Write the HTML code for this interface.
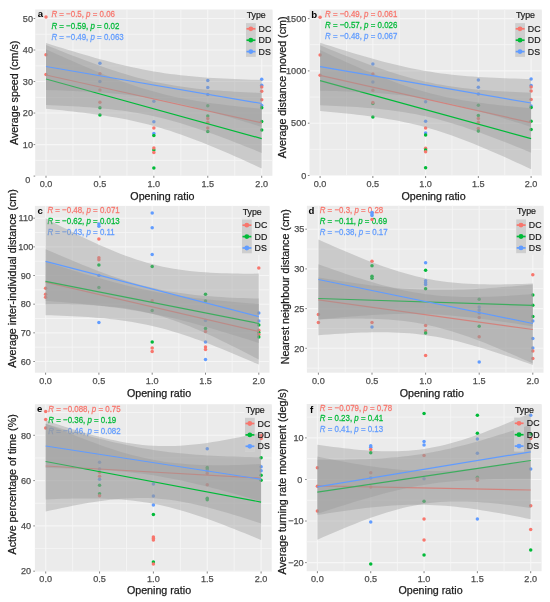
<!DOCTYPE html>
<html><head><meta charset="utf-8"><style>
html,body{margin:0;padding:0;background:#fff;}
svg{display:block;will-change:transform;}
text{font-family:"Liberation Sans", sans-serif;stroke-width:0.25px;paint-order:stroke;}
.tk{font-size:9.1px;fill:#4D4D4D;stroke:#4D4D4D;}
.ti{font-size:10.7px;fill:#1a1a1a;stroke:#1a1a1a;}
.tag{font-size:9.6px;font-weight:bold;fill:#000;}
.an{font-size:9.1px;}
.lt{font-size:8.8px;fill:#1a1a1a;stroke:#1a1a1a;stroke-width:0.2px;}
.ll{font-size:8.8px;fill:#1a1a1a;stroke:#1a1a1a;stroke-width:0.2px;}
</style></head><body>
<svg width="550" height="602" viewBox="0 0 550 602">
<rect width="550" height="602" fill="#fff"/>
<rect x="35.2" y="9.5" width="237.2" height="166.3" fill="#EBEBEB"/>
<line x1="35.2" x2="272.4" y1="160.34" y2="160.34" stroke="#F5F5F5" stroke-width="0.9"/>
<line x1="35.2" x2="272.4" y1="128.82" y2="128.82" stroke="#F5F5F5" stroke-width="0.9"/>
<line x1="35.2" x2="272.4" y1="97.3" y2="97.3" stroke="#F5F5F5" stroke-width="0.9"/>
<line x1="35.2" x2="272.4" y1="65.78" y2="65.78" stroke="#F5F5F5" stroke-width="0.9"/>
<line x1="35.2" x2="272.4" y1="34.26" y2="34.26" stroke="#F5F5F5" stroke-width="0.9"/>
<line y1="9.5" y2="175.8" x1="72.96" x2="72.96" stroke="#F5F5F5" stroke-width="0.9"/>
<line y1="9.5" y2="175.8" x1="126.89" x2="126.89" stroke="#F5F5F5" stroke-width="0.9"/>
<line y1="9.5" y2="175.8" x1="180.81" x2="180.81" stroke="#F5F5F5" stroke-width="0.9"/>
<line y1="9.5" y2="175.8" x1="234.74" x2="234.74" stroke="#F5F5F5" stroke-width="0.9"/>
<line x1="35.2" x2="272.4" y1="144.58" y2="144.58" stroke="#F6F6F6" stroke-width="1.1"/>
<line x1="35.2" x2="272.4" y1="113.06" y2="113.06" stroke="#F6F6F6" stroke-width="1.1"/>
<line x1="35.2" x2="272.4" y1="81.54" y2="81.54" stroke="#F6F6F6" stroke-width="1.1"/>
<line x1="35.2" x2="272.4" y1="50.02" y2="50.02" stroke="#F6F6F6" stroke-width="1.1"/>
<line x1="35.2" x2="272.4" y1="18.5" y2="18.5" stroke="#F6F6F6" stroke-width="1.1"/>
<line y1="9.5" y2="175.8" x1="46" x2="46" stroke="#F6F6F6" stroke-width="1.1"/>
<line y1="9.5" y2="175.8" x1="99.92" x2="99.92" stroke="#F6F6F6" stroke-width="1.1"/>
<line y1="9.5" y2="175.8" x1="153.85" x2="153.85" stroke="#F6F6F6" stroke-width="1.1"/>
<line y1="9.5" y2="175.8" x1="207.77" x2="207.77" stroke="#F6F6F6" stroke-width="1.1"/>
<line y1="9.5" y2="175.8" x1="261.7" x2="261.7" stroke="#F6F6F6" stroke-width="1.1"/>
<text transform="translate(51.4,17) scale(0.87,1)" class="an" fill="#F8766D" stroke="#F8766D"><tspan font-style="italic">R</tspan> = −0.5, <tspan font-style="italic">p</tspan> = 0.06</text>
<text transform="translate(51.4,28.5) scale(0.87,1)" class="an" fill="#00BA38" stroke="#00BA38"><tspan font-style="italic">R</tspan> = −0.59, <tspan font-style="italic">p</tspan> = 0.02</text>
<text transform="translate(51.4,40) scale(0.87,1)" class="an" fill="#619CFF" stroke="#619CFF"><tspan font-style="italic">R</tspan> = −0.49, <tspan font-style="italic">p</tspan> = 0.063</text>
<circle cx="46" cy="17" r="1.75" fill="#F8766D"/>
<circle cx="46" cy="54.7" r="1.75" fill="#F8766D"/>
<circle cx="46" cy="74.5" r="1.75" fill="#F8766D"/>
<circle cx="99.92" cy="63.3" r="1.75" fill="#619CFF"/>
<circle cx="99.92" cy="73.7" r="1.75" fill="#F8766D"/>
<circle cx="99.92" cy="81.5" r="1.75" fill="#619CFF"/>
<circle cx="99.92" cy="89.9" r="1.75" fill="#F8766D"/>
<circle cx="99.92" cy="102.2" r="1.75" fill="#F8766D"/>
<circle cx="99.92" cy="107.8" r="1.75" fill="#00BA38"/>
<circle cx="99.92" cy="114.9" r="1.75" fill="#00BA38"/>
<circle cx="153.85" cy="101.3" r="1.75" fill="#619CFF"/>
<circle cx="153.85" cy="121.8" r="1.75" fill="#619CFF"/>
<circle cx="153.85" cy="128.1" r="1.75" fill="#F8766D"/>
<circle cx="153.85" cy="133.5" r="1.75" fill="#619CFF"/>
<circle cx="153.85" cy="135.5" r="1.75" fill="#00BA38"/>
<circle cx="153.85" cy="150" r="1.75" fill="#00BA38"/>
<circle cx="153.85" cy="147.9" r="1.75" fill="#F8766D"/>
<circle cx="153.85" cy="152.4" r="1.75" fill="#F8766D"/>
<circle cx="153.85" cy="168" r="1.75" fill="#00BA38"/>
<circle cx="207.77" cy="80.5" r="1.75" fill="#619CFF"/>
<circle cx="207.77" cy="87.4" r="1.75" fill="#619CFF"/>
<circle cx="207.77" cy="94.4" r="1.75" fill="#619CFF"/>
<circle cx="207.77" cy="105.8" r="1.75" fill="#00BA38"/>
<circle cx="207.77" cy="115.9" r="1.75" fill="#00BA38"/>
<circle cx="207.77" cy="118.6" r="1.75" fill="#F8766D"/>
<circle cx="207.77" cy="122.3" r="1.75" fill="#F8766D"/>
<circle cx="207.77" cy="128.1" r="1.75" fill="#F8766D"/>
<circle cx="207.77" cy="131.4" r="1.75" fill="#00BA38"/>
<circle cx="261.7" cy="79.3" r="1.75" fill="#619CFF"/>
<circle cx="261.7" cy="85.3" r="1.75" fill="#619CFF"/>
<circle cx="261.7" cy="87.1" r="1.75" fill="#F8766D"/>
<circle cx="261.7" cy="91.3" r="1.75" fill="#F8766D"/>
<circle cx="261.7" cy="99.7" r="1.75" fill="#F8766D"/>
<circle cx="261.7" cy="105.5" r="1.75" fill="#619CFF"/>
<circle cx="261.7" cy="107.8" r="1.75" fill="#00BA38"/>
<circle cx="261.7" cy="121.5" r="1.75" fill="#00BA38"/>
<circle cx="261.7" cy="129.9" r="1.75" fill="#00BA38"/>
<path d="M46,45 L51.39,47.19 L56.78,49.36 L62.18,51.51 L67.57,53.64 L72.96,55.74 L78.35,57.81 L83.75,59.86 L89.14,61.86 L94.53,63.83 L99.92,65.76 L105.32,67.64 L110.71,69.47 L116.1,71.24 L121.49,72.95 L126.89,74.59 L132.28,76.16 L137.67,77.65 L143.06,79.06 L148.46,80.39 L153.85,81.63 L159.24,82.78 L164.63,83.85 L170.03,84.84 L175.42,85.74 L180.81,86.57 L186.2,87.32 L191.6,88.01 L196.99,88.63 L202.38,89.2 L207.77,89.71 L213.17,90.18 L218.56,90.6 L223.95,90.99 L229.34,91.34 L234.74,91.66 L240.13,91.96 L245.52,92.22 L250.91,92.47 L256.31,92.69 L261.7,92.9 L261.7,152.9 L256.31,150.71 L250.91,148.54 L245.52,146.39 L240.13,144.26 L234.74,142.16 L229.34,140.09 L223.95,138.04 L218.56,136.04 L213.17,134.07 L207.77,132.14 L202.38,130.26 L196.99,128.43 L191.6,126.66 L186.2,124.95 L180.81,123.31 L175.42,121.74 L170.03,120.25 L164.63,118.84 L159.24,117.51 L153.85,116.27 L148.46,115.12 L143.06,114.05 L137.67,113.06 L132.28,112.16 L126.89,111.33 L121.49,110.58 L116.1,109.89 L110.71,109.27 L105.32,108.7 L99.92,108.19 L94.53,107.72 L89.14,107.3 L83.75,106.91 L78.35,106.56 L72.96,106.24 L67.57,105.94 L62.18,105.68 L56.78,105.43 L51.39,105.21 L46,105Z" fill="#999999" fill-opacity="0.4"/>
<line x1="46" y1="75" x2="261.7" y2="122.9" stroke="#F8766D" stroke-width="1.2"/>
<path d="M46,49.2 L51.39,51.67 L56.78,54.13 L62.18,56.57 L67.57,58.98 L72.96,61.37 L78.35,63.73 L83.75,66.06 L89.14,68.36 L94.53,70.61 L99.92,72.83 L105.32,75 L110.71,77.11 L116.1,79.17 L121.49,81.17 L126.89,83.1 L132.28,84.96 L137.67,86.74 L143.06,88.44 L148.46,90.06 L153.85,91.59 L159.24,93.04 L164.63,94.4 L170.03,95.68 L175.42,96.88 L180.81,98 L186.2,99.05 L191.6,100.03 L196.99,100.95 L202.38,101.82 L207.77,102.63 L213.17,103.39 L218.56,104.12 L223.95,104.8 L229.34,105.45 L234.74,106.07 L240.13,106.66 L245.52,107.23 L250.91,107.77 L256.31,108.29 L261.7,108.8 L261.7,168.4 L256.31,165.93 L250.91,163.47 L245.52,161.03 L240.13,158.62 L234.74,156.23 L229.34,153.87 L223.95,151.54 L218.56,149.24 L213.17,146.99 L207.77,144.77 L202.38,142.6 L196.99,140.49 L191.6,138.43 L186.2,136.43 L180.81,134.5 L175.42,132.64 L170.03,130.86 L164.63,129.16 L159.24,127.54 L153.85,126.01 L148.46,124.56 L143.06,123.2 L137.67,121.92 L132.28,120.72 L126.89,119.6 L121.49,118.55 L116.1,117.57 L110.71,116.65 L105.32,115.78 L99.92,114.97 L94.53,114.21 L89.14,113.48 L83.75,112.8 L78.35,112.15 L72.96,111.53 L67.57,110.94 L62.18,110.37 L56.78,109.83 L51.39,109.31 L46,108.8Z" fill="#999999" fill-opacity="0.4"/>
<line x1="46" y1="79" x2="261.7" y2="138.6" stroke="#00BA38" stroke-width="1.2"/>
<path d="M46,43 L51.39,44.7 L56.78,46.39 L62.18,48.06 L67.57,49.71 L72.96,51.35 L78.35,52.96 L83.75,54.55 L89.14,56.11 L94.53,57.64 L99.92,59.13 L105.32,60.59 L110.71,62.01 L116.1,63.39 L121.49,64.71 L126.89,65.98 L132.28,67.2 L137.67,68.36 L143.06,69.45 L148.46,70.47 L153.85,71.43 L159.24,72.32 L164.63,73.15 L170.03,73.91 L175.42,74.6 L180.81,75.23 L186.2,75.81 L191.6,76.34 L196.99,76.81 L202.38,77.24 L207.77,77.63 L213.17,77.99 L218.56,78.31 L223.95,78.6 L229.34,78.86 L234.74,79.1 L240.13,79.31 L245.52,79.51 L250.91,79.69 L256.31,79.85 L261.7,80 L261.7,127 L256.31,125.3 L250.91,123.61 L245.52,121.94 L240.13,120.29 L234.74,118.65 L229.34,117.04 L223.95,115.45 L218.56,113.89 L213.17,112.36 L207.77,110.87 L202.38,109.41 L196.99,107.99 L191.6,106.61 L186.2,105.29 L180.81,104.02 L175.42,102.8 L170.03,101.64 L164.63,100.55 L159.24,99.53 L153.85,98.57 L148.46,97.68 L143.06,96.85 L137.67,96.09 L132.28,95.4 L126.89,94.77 L121.49,94.19 L116.1,93.66 L110.71,93.19 L105.32,92.76 L99.92,92.37 L94.53,92.01 L89.14,91.69 L83.75,91.4 L78.35,91.14 L72.96,90.9 L67.57,90.69 L62.18,90.49 L56.78,90.31 L51.39,90.15 L46,90Z" fill="#999999" fill-opacity="0.4"/>
<line x1="46" y1="66.5" x2="261.7" y2="103.5" stroke="#619CFF" stroke-width="1.2"/>
<line x1="33.6" x2="35.2" y1="176.1" y2="176.1" stroke="#333" stroke-width="0.6"/>
<text x="27.9" y="183" text-anchor="middle" class="tk">0</text>
<line x1="33.6" x2="35.2" y1="144.58" y2="144.58" stroke="#333" stroke-width="0.6"/>
<text x="27.9" y="147.78" text-anchor="middle" class="tk">10</text>
<line x1="33.6" x2="35.2" y1="113.06" y2="113.06" stroke="#333" stroke-width="0.6"/>
<text x="27.9" y="116.26" text-anchor="middle" class="tk">20</text>
<line x1="33.6" x2="35.2" y1="81.54" y2="81.54" stroke="#333" stroke-width="0.6"/>
<text x="27.9" y="84.74" text-anchor="middle" class="tk">30</text>
<line x1="33.6" x2="35.2" y1="50.02" y2="50.02" stroke="#333" stroke-width="0.6"/>
<text x="27.9" y="53.22" text-anchor="middle" class="tk">40</text>
<line x1="33.6" x2="35.2" y1="18.5" y2="18.5" stroke="#333" stroke-width="0.6"/>
<text x="27.9" y="21.7" text-anchor="middle" class="tk">50</text>
<line x1="46" x2="46" y1="175.8" y2="177.8" stroke="#333" stroke-width="0.6"/>
<text x="46" y="187.1" text-anchor="middle" class="tk">0.0</text>
<line x1="99.92" x2="99.92" y1="175.8" y2="177.8" stroke="#333" stroke-width="0.6"/>
<text x="99.92" y="187.1" text-anchor="middle" class="tk">0.5</text>
<line x1="153.85" x2="153.85" y1="175.8" y2="177.8" stroke="#333" stroke-width="0.6"/>
<text x="153.85" y="187.1" text-anchor="middle" class="tk">1.0</text>
<line x1="207.77" x2="207.77" y1="175.8" y2="177.8" stroke="#333" stroke-width="0.6"/>
<text x="207.77" y="187.1" text-anchor="middle" class="tk">1.5</text>
<line x1="261.7" x2="261.7" y1="175.8" y2="177.8" stroke="#333" stroke-width="0.6"/>
<text x="261.7" y="187.1" text-anchor="middle" class="tk">2.0</text>
<text x="162.4" y="200.2" text-anchor="middle" class="ti">Opening ratio</text>
<text transform="translate(18,92.8) rotate(-90)" text-anchor="middle" class="ti">Average speed (cm/s)</text>
<text x="37.7" y="16.6" class="tag">a</text>
<rect x="245.4" y="10.5" width="27" height="48" fill="#EBEBEB"/>
<text x="246.7" y="18.1" class="lt">Type</text>
<rect x="246" y="23.1" width="9.8" height="33.8" fill="#F2F2F2"/>
<rect x="246" y="23.1" width="9.8" height="33.8" fill="#999999" fill-opacity="0.4"/>
<line x1="246.5" x2="255.4" y1="28.8" y2="28.8" stroke="#F8766D" stroke-width="1.7"/>
<circle cx="250.8" cy="28.8" r="2.4" fill="#F8766D"/>
<text x="258.6" y="31.9" class="ll">DC</text>
<line x1="246.5" x2="255.4" y1="40.2" y2="40.2" stroke="#00BA38" stroke-width="1.7"/>
<circle cx="250.8" cy="40.2" r="2.4" fill="#00BA38"/>
<text x="258.6" y="43.3" class="ll">DD</text>
<line x1="246.5" x2="255.4" y1="51.6" y2="51.6" stroke="#619CFF" stroke-width="1.7"/>
<circle cx="250.8" cy="51.6" r="2.4" fill="#619CFF"/>
<text x="258.6" y="54.7" class="ll">DS</text>
<rect x="309.5" y="9.5" width="232.2" height="166.5" fill="#EBEBEB"/>
<line x1="309.5" x2="541.7" y1="149.35" y2="149.35" stroke="#F5F5F5" stroke-width="0.9"/>
<line x1="309.5" x2="541.7" y1="97.05" y2="97.05" stroke="#F5F5F5" stroke-width="0.9"/>
<line x1="309.5" x2="541.7" y1="44.75" y2="44.75" stroke="#F5F5F5" stroke-width="0.9"/>
<line y1="9.5" y2="176" x1="346.48" x2="346.48" stroke="#F5F5F5" stroke-width="0.9"/>
<line y1="9.5" y2="176" x1="399.23" x2="399.23" stroke="#F5F5F5" stroke-width="0.9"/>
<line y1="9.5" y2="176" x1="451.98" x2="451.98" stroke="#F5F5F5" stroke-width="0.9"/>
<line y1="9.5" y2="176" x1="504.73" x2="504.73" stroke="#F5F5F5" stroke-width="0.9"/>
<line x1="309.5" x2="541.7" y1="175.5" y2="175.5" stroke="#F6F6F6" stroke-width="1.1"/>
<line x1="309.5" x2="541.7" y1="123.2" y2="123.2" stroke="#F6F6F6" stroke-width="1.1"/>
<line x1="309.5" x2="541.7" y1="70.9" y2="70.9" stroke="#F6F6F6" stroke-width="1.1"/>
<line x1="309.5" x2="541.7" y1="18.6" y2="18.6" stroke="#F6F6F6" stroke-width="1.1"/>
<line y1="9.5" y2="176" x1="320.1" x2="320.1" stroke="#F6F6F6" stroke-width="1.1"/>
<line y1="9.5" y2="176" x1="372.85" x2="372.85" stroke="#F6F6F6" stroke-width="1.1"/>
<line y1="9.5" y2="176" x1="425.6" x2="425.6" stroke="#F6F6F6" stroke-width="1.1"/>
<line y1="9.5" y2="176" x1="478.35" x2="478.35" stroke="#F6F6F6" stroke-width="1.1"/>
<line y1="9.5" y2="176" x1="531.1" x2="531.1" stroke="#F6F6F6" stroke-width="1.1"/>
<text transform="translate(325,17) scale(0.87,1)" class="an" fill="#F8766D" stroke="#F8766D"><tspan font-style="italic">R</tspan> = −0.49, <tspan font-style="italic">p</tspan> = 0.061</text>
<text transform="translate(325,28.05) scale(0.87,1)" class="an" fill="#00BA38" stroke="#00BA38"><tspan font-style="italic">R</tspan> = −0.57, <tspan font-style="italic">p</tspan> = 0.026</text>
<text transform="translate(325,39.1) scale(0.87,1)" class="an" fill="#619CFF" stroke="#619CFF"><tspan font-style="italic">R</tspan> = −0.48, <tspan font-style="italic">p</tspan> = 0.067</text>
<circle cx="320.1" cy="17.2" r="1.75" fill="#F8766D"/>
<circle cx="320.1" cy="55" r="1.75" fill="#F8766D"/>
<circle cx="320.1" cy="75.3" r="1.75" fill="#F8766D"/>
<circle cx="372.85" cy="64" r="1.75" fill="#619CFF"/>
<circle cx="372.85" cy="73.9" r="1.75" fill="#F8766D"/>
<circle cx="372.85" cy="82" r="1.75" fill="#619CFF"/>
<circle cx="372.85" cy="90.2" r="1.75" fill="#F8766D"/>
<circle cx="372.85" cy="103.5" r="1.75" fill="#00BA38"/>
<circle cx="372.85" cy="102.4" r="1.75" fill="#F8766D"/>
<circle cx="372.85" cy="116.9" r="1.75" fill="#00BA38"/>
<circle cx="425.6" cy="101.8" r="1.75" fill="#619CFF"/>
<circle cx="425.6" cy="121.3" r="1.75" fill="#619CFF"/>
<circle cx="425.6" cy="128" r="1.75" fill="#F8766D"/>
<circle cx="425.6" cy="132.9" r="1.75" fill="#619CFF"/>
<circle cx="425.6" cy="134.9" r="1.75" fill="#00BA38"/>
<circle cx="425.6" cy="148.3" r="1.75" fill="#F8766D"/>
<circle cx="425.6" cy="150" r="1.75" fill="#00BA38"/>
<circle cx="425.6" cy="151.8" r="1.75" fill="#F8766D"/>
<circle cx="425.6" cy="167.8" r="1.75" fill="#00BA38"/>
<circle cx="478.35" cy="80" r="1.75" fill="#619CFF"/>
<circle cx="478.35" cy="87.3" r="1.75" fill="#619CFF"/>
<circle cx="478.35" cy="94" r="1.75" fill="#619CFF"/>
<circle cx="478.35" cy="105.3" r="1.75" fill="#00BA38"/>
<circle cx="478.35" cy="115.5" r="1.75" fill="#00BA38"/>
<circle cx="478.35" cy="118.4" r="1.75" fill="#F8766D"/>
<circle cx="478.35" cy="122.2" r="1.75" fill="#F8766D"/>
<circle cx="478.35" cy="128.5" r="1.75" fill="#F8766D"/>
<circle cx="478.35" cy="130.9" r="1.75" fill="#00BA38"/>
<circle cx="531.1" cy="79.1" r="1.75" fill="#619CFF"/>
<circle cx="531.1" cy="85.5" r="1.75" fill="#619CFF"/>
<circle cx="531.1" cy="87" r="1.75" fill="#F8766D"/>
<circle cx="531.1" cy="91" r="1.75" fill="#F8766D"/>
<circle cx="531.1" cy="99.5" r="1.75" fill="#F8766D"/>
<circle cx="531.1" cy="105.9" r="1.75" fill="#619CFF"/>
<circle cx="531.1" cy="107.6" r="1.75" fill="#00BA38"/>
<circle cx="531.1" cy="121.3" r="1.75" fill="#00BA38"/>
<circle cx="531.1" cy="129.4" r="1.75" fill="#00BA38"/>
<path d="M320.1,45.3 L325.38,47.48 L330.65,49.63 L335.93,51.77 L341.2,53.89 L346.48,55.98 L351.75,58.04 L357.03,60.07 L362.3,62.06 L367.58,64.02 L372.85,65.94 L378.12,67.8 L383.4,69.62 L388.68,71.38 L393.95,73.08 L399.23,74.7 L404.5,76.26 L409.78,77.74 L415.05,79.14 L420.33,80.45 L425.6,81.68 L430.88,82.82 L436.15,83.88 L441.43,84.85 L446.7,85.74 L451.98,86.55 L457.25,87.3 L462.53,87.97 L467.8,88.58 L473.08,89.13 L478.35,89.64 L483.62,90.09 L488.9,90.5 L494.18,90.88 L499.45,91.22 L504.73,91.53 L510,91.81 L515.28,92.06 L520.55,92.29 L525.83,92.51 L531.1,92.7 L531.1,152.7 L525.83,150.52 L520.55,148.37 L515.28,146.23 L510,144.11 L504.73,142.02 L499.45,139.96 L494.18,137.93 L488.9,135.94 L483.62,133.98 L478.35,132.06 L473.08,130.2 L467.8,128.38 L462.53,126.62 L457.25,124.92 L451.98,123.3 L446.7,121.74 L441.43,120.26 L436.15,118.86 L430.88,117.55 L425.6,116.32 L420.33,115.18 L415.05,114.12 L409.78,113.15 L404.5,112.26 L399.23,111.45 L393.95,110.7 L388.68,110.03 L383.4,109.42 L378.12,108.87 L372.85,108.36 L367.58,107.91 L362.3,107.5 L357.03,107.12 L351.75,106.78 L346.48,106.47 L341.2,106.19 L335.93,105.94 L330.65,105.71 L325.38,105.49 L320.1,105.3Z" fill="#999999" fill-opacity="0.4"/>
<line x1="320.1" y1="75.3" x2="531.1" y2="122.7" stroke="#F8766D" stroke-width="1.2"/>
<path d="M320.1,50.1 L325.38,52.56 L330.65,55 L335.93,57.42 L341.2,59.82 L346.48,62.19 L351.75,64.54 L357.03,66.85 L362.3,69.13 L367.58,71.36 L372.85,73.56 L378.12,75.7 L383.4,77.8 L388.68,79.83 L393.95,81.81 L399.23,83.71 L404.5,85.54 L409.78,87.29 L415.05,88.96 L420.33,90.54 L425.6,92.04 L430.88,93.45 L436.15,94.77 L441.43,96.01 L446.7,97.16 L451.98,98.24 L457.25,99.24 L462.53,100.17 L467.8,101.04 L473.08,101.85 L478.35,102.61 L483.62,103.32 L488.9,103.99 L494.18,104.61 L499.45,105.21 L504.73,105.77 L510,106.3 L515.28,106.81 L520.55,107.29 L525.83,107.76 L531.1,108.2 L531.1,169.2 L525.83,166.74 L520.55,164.3 L515.28,161.88 L510,159.48 L504.73,157.11 L499.45,154.76 L494.18,152.45 L488.9,150.17 L483.62,147.94 L478.35,145.74 L473.08,143.6 L467.8,141.5 L462.53,139.47 L457.25,137.49 L451.98,135.59 L446.7,133.76 L441.43,132.01 L436.15,130.34 L430.88,128.76 L425.6,127.26 L420.33,125.85 L415.05,124.53 L409.78,123.29 L404.5,122.14 L399.23,121.06 L393.95,120.06 L388.68,119.13 L383.4,118.26 L378.12,117.45 L372.85,116.69 L367.58,115.98 L362.3,115.31 L357.03,114.69 L351.75,114.09 L346.48,113.53 L341.2,113 L335.93,112.49 L330.65,112.01 L325.38,111.54 L320.1,111.1Z" fill="#999999" fill-opacity="0.4"/>
<line x1="320.1" y1="80.6" x2="531.1" y2="138.7" stroke="#00BA38" stroke-width="1.2"/>
<path d="M320.1,42.7 L325.38,44.4 L330.65,46.09 L335.93,47.76 L341.2,49.41 L346.48,51.04 L351.75,52.65 L357.03,54.23 L362.3,55.79 L367.58,57.31 L372.85,58.8 L378.12,60.26 L383.4,61.67 L388.68,63.04 L393.95,64.35 L399.23,65.62 L404.5,66.82 L409.78,67.96 L415.05,69.04 L420.33,70.05 L425.6,70.99 L430.88,71.87 L436.15,72.67 L441.43,73.41 L446.7,74.08 L451.98,74.69 L457.25,75.24 L462.53,75.74 L467.8,76.19 L473.08,76.59 L478.35,76.95 L483.62,77.28 L488.9,77.57 L494.18,77.83 L499.45,78.06 L504.73,78.26 L510,78.45 L515.28,78.61 L520.55,78.76 L525.83,78.89 L531.1,79 L531.1,127 L525.83,125.3 L520.55,123.61 L515.28,121.94 L510,120.29 L504.73,118.66 L499.45,117.05 L494.18,115.47 L488.9,113.91 L483.62,112.39 L478.35,110.9 L473.08,109.44 L467.8,108.03 L462.53,106.66 L457.25,105.35 L451.98,104.08 L446.7,102.88 L441.43,101.74 L436.15,100.66 L430.88,99.65 L425.6,98.71 L420.33,97.83 L415.05,97.03 L409.78,96.29 L404.5,95.62 L399.23,95.01 L393.95,94.46 L388.68,93.96 L383.4,93.51 L378.12,93.11 L372.85,92.75 L367.58,92.42 L362.3,92.13 L357.03,91.87 L351.75,91.64 L346.48,91.44 L341.2,91.25 L335.93,91.09 L330.65,90.94 L325.38,90.81 L320.1,90.7Z" fill="#999999" fill-opacity="0.4"/>
<line x1="320.1" y1="66.7" x2="531.1" y2="103" stroke="#619CFF" stroke-width="1.2"/>
<line x1="307.9" x2="309.5" y1="175.5" y2="175.5" stroke="#333" stroke-width="0.6"/>
<text x="306.3" y="178.7" text-anchor="end" class="tk">0</text>
<line x1="307.9" x2="309.5" y1="123.2" y2="123.2" stroke="#333" stroke-width="0.6"/>
<text x="306.3" y="126.4" text-anchor="end" class="tk">500</text>
<line x1="307.9" x2="309.5" y1="70.9" y2="70.9" stroke="#333" stroke-width="0.6"/>
<text x="306.3" y="74.1" text-anchor="end" class="tk">1000</text>
<line x1="307.9" x2="309.5" y1="18.6" y2="18.6" stroke="#333" stroke-width="0.6"/>
<text x="306.3" y="21.8" text-anchor="end" class="tk">1500</text>
<line x1="320.1" x2="320.1" y1="176" y2="178" stroke="#333" stroke-width="0.6"/>
<text x="320.1" y="187.1" text-anchor="middle" class="tk">0.0</text>
<line x1="372.85" x2="372.85" y1="176" y2="178" stroke="#333" stroke-width="0.6"/>
<text x="372.85" y="187.1" text-anchor="middle" class="tk">0.5</text>
<line x1="425.6" x2="425.6" y1="176" y2="178" stroke="#333" stroke-width="0.6"/>
<text x="425.6" y="187.1" text-anchor="middle" class="tk">1.0</text>
<line x1="478.35" x2="478.35" y1="176" y2="178" stroke="#333" stroke-width="0.6"/>
<text x="478.35" y="187.1" text-anchor="middle" class="tk">1.5</text>
<line x1="531.1" x2="531.1" y1="176" y2="178" stroke="#333" stroke-width="0.6"/>
<text x="531.1" y="187.1" text-anchor="middle" class="tk">2.0</text>
<text x="433.6" y="200.2" text-anchor="middle" class="ti">Opening ratio</text>
<text transform="translate(286,87.4) rotate(-90)" text-anchor="middle" class="ti">Average distance moved (cm)</text>
<text x="311.3" y="17.9" class="tag">b</text>
<rect x="514.6" y="10.5" width="27.1" height="48" fill="#EBEBEB"/>
<text x="515.9" y="18.1" class="lt">Type</text>
<rect x="515.2" y="23.1" width="9.8" height="33.8" fill="#F2F2F2"/>
<rect x="515.2" y="23.1" width="9.8" height="33.8" fill="#999999" fill-opacity="0.4"/>
<line x1="515.7" x2="524.6" y1="28.8" y2="28.8" stroke="#F8766D" stroke-width="1.7"/>
<circle cx="520" cy="28.8" r="2.4" fill="#F8766D"/>
<text x="527.8" y="31.9" class="ll">DC</text>
<line x1="515.7" x2="524.6" y1="40.2" y2="40.2" stroke="#00BA38" stroke-width="1.7"/>
<circle cx="520" cy="40.2" r="2.4" fill="#00BA38"/>
<text x="527.8" y="43.3" class="ll">DD</text>
<line x1="515.7" x2="524.6" y1="51.6" y2="51.6" stroke="#619CFF" stroke-width="1.7"/>
<circle cx="520" cy="51.6" r="2.4" fill="#619CFF"/>
<text x="527.8" y="54.7" class="ll">DS</text>
<rect x="34.9" y="205.9" width="234.6" height="166.8" fill="#EBEBEB"/>
<line x1="34.9" x2="269.5" y1="347.17" y2="347.17" stroke="#F5F5F5" stroke-width="0.9"/>
<line x1="34.9" x2="269.5" y1="318.51" y2="318.51" stroke="#F5F5F5" stroke-width="0.9"/>
<line x1="34.9" x2="269.5" y1="289.85" y2="289.85" stroke="#F5F5F5" stroke-width="0.9"/>
<line x1="34.9" x2="269.5" y1="261.19" y2="261.19" stroke="#F5F5F5" stroke-width="0.9"/>
<line x1="34.9" x2="269.5" y1="232.53" y2="232.53" stroke="#F5F5F5" stroke-width="0.9"/>
<line y1="205.9" y2="372.7" x1="72.25" x2="72.25" stroke="#F5F5F5" stroke-width="0.9"/>
<line y1="205.9" y2="372.7" x1="125.55" x2="125.55" stroke="#F5F5F5" stroke-width="0.9"/>
<line y1="205.9" y2="372.7" x1="178.85" x2="178.85" stroke="#F5F5F5" stroke-width="0.9"/>
<line y1="205.9" y2="372.7" x1="232.15" x2="232.15" stroke="#F5F5F5" stroke-width="0.9"/>
<line x1="34.9" x2="269.5" y1="361.5" y2="361.5" stroke="#F6F6F6" stroke-width="1.1"/>
<line x1="34.9" x2="269.5" y1="332.84" y2="332.84" stroke="#F6F6F6" stroke-width="1.1"/>
<line x1="34.9" x2="269.5" y1="304.18" y2="304.18" stroke="#F6F6F6" stroke-width="1.1"/>
<line x1="34.9" x2="269.5" y1="275.52" y2="275.52" stroke="#F6F6F6" stroke-width="1.1"/>
<line x1="34.9" x2="269.5" y1="246.86" y2="246.86" stroke="#F6F6F6" stroke-width="1.1"/>
<line x1="34.9" x2="269.5" y1="218.2" y2="218.2" stroke="#F6F6F6" stroke-width="1.1"/>
<line y1="205.9" y2="372.7" x1="45.6" x2="45.6" stroke="#F6F6F6" stroke-width="1.1"/>
<line y1="205.9" y2="372.7" x1="98.9" x2="98.9" stroke="#F6F6F6" stroke-width="1.1"/>
<line y1="205.9" y2="372.7" x1="152.2" x2="152.2" stroke="#F6F6F6" stroke-width="1.1"/>
<line y1="205.9" y2="372.7" x1="205.5" x2="205.5" stroke="#F6F6F6" stroke-width="1.1"/>
<line y1="205.9" y2="372.7" x1="258.8" x2="258.8" stroke="#F6F6F6" stroke-width="1.1"/>
<text transform="translate(47.4,212.8) scale(0.87,1)" class="an" fill="#F8766D" stroke="#F8766D"><tspan font-style="italic">R</tspan> = −0.48, <tspan font-style="italic">p</tspan> = 0.071</text>
<text transform="translate(47.4,223.85) scale(0.87,1)" class="an" fill="#00BA38" stroke="#00BA38"><tspan font-style="italic">R</tspan> = −0.62, <tspan font-style="italic">p</tspan> = 0.013</text>
<text transform="translate(47.4,234.9) scale(0.87,1)" class="an" fill="#619CFF" stroke="#619CFF"><tspan font-style="italic">R</tspan> = −0.43, <tspan font-style="italic">p</tspan> = 0.11</text>
<circle cx="45.6" cy="288.2" r="1.75" fill="#F8766D"/>
<circle cx="45.6" cy="294.2" r="1.75" fill="#F8766D"/>
<circle cx="45.6" cy="297.2" r="1.75" fill="#F8766D"/>
<circle cx="98.9" cy="223.9" r="1.75" fill="#619CFF"/>
<circle cx="98.9" cy="226.3" r="1.75" fill="#619CFF"/>
<circle cx="98.9" cy="238.9" r="1.75" fill="#F8766D"/>
<circle cx="98.9" cy="257.7" r="1.75" fill="#F8766D"/>
<circle cx="98.9" cy="259.8" r="1.75" fill="#F8766D"/>
<circle cx="98.9" cy="264.9" r="1.75" fill="#00BA38"/>
<circle cx="98.9" cy="275.4" r="1.75" fill="#619CFF"/>
<circle cx="98.9" cy="287.6" r="1.75" fill="#00BA38"/>
<circle cx="98.9" cy="322.6" r="1.75" fill="#619CFF"/>
<circle cx="152.2" cy="212.9" r="1.75" fill="#619CFF"/>
<circle cx="152.2" cy="227.8" r="1.75" fill="#619CFF"/>
<circle cx="152.2" cy="254.4" r="1.75" fill="#619CFF"/>
<circle cx="152.2" cy="266.4" r="1.75" fill="#00BA38"/>
<circle cx="152.2" cy="300.8" r="1.75" fill="#F8766D"/>
<circle cx="152.2" cy="310.6" r="1.75" fill="#00BA38"/>
<circle cx="152.2" cy="342" r="1.75" fill="#00BA38"/>
<circle cx="152.2" cy="348" r="1.75" fill="#F8766D"/>
<circle cx="152.2" cy="351.6" r="1.75" fill="#F8766D"/>
<circle cx="205.5" cy="294.2" r="1.75" fill="#00BA38"/>
<circle cx="205.5" cy="301.1" r="1.75" fill="#00BA38"/>
<circle cx="205.5" cy="320.5" r="1.75" fill="#619CFF"/>
<circle cx="205.5" cy="328.6" r="1.75" fill="#00BA38"/>
<circle cx="205.5" cy="331.6" r="1.75" fill="#F8766D"/>
<circle cx="205.5" cy="342" r="1.75" fill="#619CFF"/>
<circle cx="205.5" cy="347.1" r="1.75" fill="#F8766D"/>
<circle cx="205.5" cy="349.5" r="1.75" fill="#F8766D"/>
<circle cx="205.5" cy="359.4" r="1.75" fill="#619CFF"/>
<circle cx="258.8" cy="267.9" r="1.75" fill="#F8766D"/>
<circle cx="258.8" cy="313" r="1.75" fill="#619CFF"/>
<circle cx="258.8" cy="321.1" r="1.75" fill="#619CFF"/>
<circle cx="258.8" cy="325" r="1.75" fill="#00BA38"/>
<circle cx="258.8" cy="330.2" r="1.75" fill="#F8766D"/>
<circle cx="258.8" cy="332.6" r="1.75" fill="#00BA38"/>
<circle cx="258.8" cy="334.6" r="1.75" fill="#F8766D"/>
<circle cx="258.8" cy="336.9" r="1.75" fill="#00BA38"/>
<path d="M45.6,249.2 L50.93,251.53 L56.26,253.83 L61.59,256.11 L66.92,258.37 L72.25,260.6 L77.58,262.8 L82.91,264.97 L88.24,267.09 L93.57,269.18 L98.9,271.22 L104.23,273.2 L109.56,275.13 L114.89,277 L120.22,278.79 L125.55,280.52 L130.88,282.16 L136.21,283.72 L141.54,285.19 L146.87,286.56 L152.2,287.85 L157.53,289.03 L162.86,290.13 L168.19,291.13 L173.52,292.04 L178.85,292.87 L184.18,293.61 L189.51,294.29 L194.84,294.89 L200.17,295.43 L205.5,295.92 L210.83,296.35 L216.16,296.73 L221.49,297.08 L226.82,297.38 L232.15,297.65 L237.48,297.89 L242.81,298.1 L248.14,298.29 L253.47,298.46 L258.8,298.6 L258.8,364.6 L253.47,362.27 L248.14,359.97 L242.81,357.69 L237.48,355.43 L232.15,353.2 L226.82,351 L221.49,348.83 L216.16,346.71 L210.83,344.62 L205.5,342.58 L200.17,340.6 L194.84,338.67 L189.51,336.8 L184.18,335.01 L178.85,333.28 L173.52,331.64 L168.19,330.08 L162.86,328.61 L157.53,327.24 L152.2,325.95 L146.87,324.77 L141.54,323.67 L136.21,322.67 L130.88,321.76 L125.55,320.93 L120.22,320.19 L114.89,319.51 L109.56,318.91 L104.23,318.37 L98.9,317.88 L93.57,317.45 L88.24,317.07 L82.91,316.72 L77.58,316.42 L72.25,316.15 L66.92,315.91 L61.59,315.7 L56.26,315.51 L50.93,315.34 L45.6,315.2Z" fill="#999999" fill-opacity="0.4"/>
<line x1="45.6" y1="282.2" x2="258.8" y2="331.6" stroke="#F8766D" stroke-width="1.2"/>
<path d="M45.6,261.8 L50.93,263.5 L56.26,265.19 L61.59,266.86 L66.92,268.52 L72.25,270.16 L77.58,271.79 L82.91,273.39 L88.24,274.97 L93.57,276.53 L98.9,278.06 L104.23,279.56 L109.56,281.03 L114.89,282.45 L120.22,283.84 L125.55,285.18 L130.88,286.48 L136.21,287.73 L141.54,288.92 L146.87,290.06 L152.2,291.14 L157.53,292.17 L162.86,293.14 L168.19,294.06 L173.52,294.92 L178.85,295.73 L184.18,296.5 L189.51,297.22 L194.84,297.91 L200.17,298.55 L205.5,299.16 L210.83,299.74 L216.16,300.29 L221.49,300.82 L226.82,301.33 L232.15,301.81 L237.48,302.28 L242.81,302.73 L248.14,303.17 L253.47,303.59 L258.8,304 L258.8,343 L253.47,341.3 L248.14,339.61 L242.81,337.94 L237.48,336.28 L232.15,334.64 L226.82,333.01 L221.49,331.41 L216.16,329.83 L210.83,328.27 L205.5,326.74 L200.17,325.24 L194.84,323.77 L189.51,322.35 L184.18,320.96 L178.85,319.62 L173.52,318.32 L168.19,317.07 L162.86,315.88 L157.53,314.74 L152.2,313.66 L146.87,312.63 L141.54,311.66 L136.21,310.74 L130.88,309.88 L125.55,309.07 L120.22,308.3 L114.89,307.58 L109.56,306.89 L104.23,306.25 L98.9,305.64 L93.57,305.06 L88.24,304.51 L82.91,303.98 L77.58,303.47 L72.25,302.99 L66.92,302.52 L61.59,302.07 L56.26,301.63 L50.93,301.21 L45.6,300.8Z" fill="#999999" fill-opacity="0.4"/>
<line x1="45.6" y1="281.3" x2="258.8" y2="323.5" stroke="#00BA38" stroke-width="1.2"/>
<path d="M45.6,218.3 L50.93,221.1 L56.26,223.88 L61.59,226.63 L66.92,229.34 L72.25,232.02 L77.58,234.66 L82.91,237.26 L88.24,239.8 L93.57,242.29 L98.9,244.72 L104.23,247.08 L109.56,249.37 L114.89,251.57 L120.22,253.69 L125.55,255.71 L130.88,257.62 L136.21,259.42 L141.54,261.11 L146.87,262.68 L152.2,264.12 L157.53,265.44 L162.86,266.64 L168.19,267.72 L173.52,268.68 L178.85,269.53 L184.18,270.28 L189.51,270.93 L194.84,271.49 L200.17,271.97 L205.5,272.37 L210.83,272.71 L216.16,272.98 L221.49,273.2 L226.82,273.37 L232.15,273.5 L237.48,273.58 L242.81,273.63 L248.14,273.65 L253.47,273.64 L258.8,273.6 L258.8,359.6 L253.47,356.8 L248.14,354.02 L242.81,351.27 L237.48,348.56 L232.15,345.88 L226.82,343.24 L221.49,340.64 L216.16,338.1 L210.83,335.61 L205.5,333.18 L200.17,330.82 L194.84,328.53 L189.51,326.33 L184.18,324.21 L178.85,322.19 L173.52,320.28 L168.19,318.48 L162.86,316.79 L157.53,315.22 L152.2,313.78 L146.87,312.46 L141.54,311.26 L136.21,310.18 L130.88,309.22 L125.55,308.37 L120.22,307.62 L114.89,306.97 L109.56,306.41 L104.23,305.93 L98.9,305.53 L93.57,305.19 L88.24,304.92 L82.91,304.7 L77.58,304.53 L72.25,304.4 L66.92,304.32 L61.59,304.27 L56.26,304.25 L50.93,304.26 L45.6,304.3Z" fill="#999999" fill-opacity="0.4"/>
<line x1="45.6" y1="261.3" x2="258.8" y2="316.6" stroke="#619CFF" stroke-width="1.2"/>
<line x1="33.3" x2="34.9" y1="361.5" y2="361.5" stroke="#333" stroke-width="0.6"/>
<text x="25.8" y="364.7" text-anchor="middle" class="tk">60</text>
<line x1="33.3" x2="34.9" y1="332.84" y2="332.84" stroke="#333" stroke-width="0.6"/>
<text x="25.8" y="336.04" text-anchor="middle" class="tk">70</text>
<line x1="33.3" x2="34.9" y1="304.18" y2="304.18" stroke="#333" stroke-width="0.6"/>
<text x="25.8" y="307.38" text-anchor="middle" class="tk">80</text>
<line x1="33.3" x2="34.9" y1="275.52" y2="275.52" stroke="#333" stroke-width="0.6"/>
<text x="25.8" y="278.72" text-anchor="middle" class="tk">90</text>
<line x1="33.3" x2="34.9" y1="246.86" y2="246.86" stroke="#333" stroke-width="0.6"/>
<text x="25.8" y="250.06" text-anchor="middle" class="tk">100</text>
<line x1="33.3" x2="34.9" y1="218.2" y2="218.2" stroke="#333" stroke-width="0.6"/>
<text x="25.8" y="221.4" text-anchor="middle" class="tk">110</text>
<line x1="45.6" x2="45.6" y1="372.7" y2="374.7" stroke="#333" stroke-width="0.6"/>
<text x="45.6" y="383.8" text-anchor="middle" class="tk">0.0</text>
<line x1="98.9" x2="98.9" y1="372.7" y2="374.7" stroke="#333" stroke-width="0.6"/>
<text x="98.9" y="383.8" text-anchor="middle" class="tk">0.5</text>
<line x1="152.2" x2="152.2" y1="372.7" y2="374.7" stroke="#333" stroke-width="0.6"/>
<text x="152.2" y="383.8" text-anchor="middle" class="tk">1.0</text>
<line x1="205.5" x2="205.5" y1="372.7" y2="374.7" stroke="#333" stroke-width="0.6"/>
<text x="205.5" y="383.8" text-anchor="middle" class="tk">1.5</text>
<line x1="258.8" x2="258.8" y1="372.7" y2="374.7" stroke="#333" stroke-width="0.6"/>
<text x="258.8" y="383.8" text-anchor="middle" class="tk">2.0</text>
<text x="159" y="396.8" text-anchor="middle" class="ti">Opening ratio</text>
<text transform="translate(16.4,278.5) rotate(-90)" text-anchor="middle" class="ti">Average inter-individual distance (cm)</text>
<text x="37.5" y="213.8" class="tag">c</text>
<rect x="241.4" y="206.9" width="28.1" height="48" fill="#EBEBEB"/>
<text x="242.7" y="214.5" class="lt">Type</text>
<rect x="242" y="219.5" width="9.8" height="33.8" fill="#F2F2F2"/>
<rect x="242" y="219.5" width="9.8" height="33.8" fill="#999999" fill-opacity="0.4"/>
<line x1="242.5" x2="251.4" y1="225.2" y2="225.2" stroke="#F8766D" stroke-width="1.7"/>
<circle cx="246.8" cy="225.2" r="2.4" fill="#F8766D"/>
<text x="254.6" y="228.3" class="ll">DC</text>
<line x1="242.5" x2="251.4" y1="236.6" y2="236.6" stroke="#00BA38" stroke-width="1.7"/>
<circle cx="246.8" cy="236.6" r="2.4" fill="#00BA38"/>
<text x="254.6" y="239.7" class="ll">DD</text>
<line x1="242.5" x2="251.4" y1="248" y2="248" stroke="#619CFF" stroke-width="1.7"/>
<circle cx="246.8" cy="248" r="2.4" fill="#619CFF"/>
<text x="254.6" y="251.1" class="ll">DS</text>
<rect x="306.9" y="205.8" width="236.6" height="166.9" fill="#EBEBEB"/>
<line x1="306.9" x2="543.5" y1="368.15" y2="368.15" stroke="#F5F5F5" stroke-width="0.9"/>
<line x1="306.9" x2="543.5" y1="328.45" y2="328.45" stroke="#F5F5F5" stroke-width="0.9"/>
<line x1="306.9" x2="543.5" y1="288.75" y2="288.75" stroke="#F5F5F5" stroke-width="0.9"/>
<line x1="306.9" x2="543.5" y1="249.05" y2="249.05" stroke="#F5F5F5" stroke-width="0.9"/>
<line x1="306.9" x2="543.5" y1="209.35" y2="209.35" stroke="#F5F5F5" stroke-width="0.9"/>
<line y1="205.8" y2="372.7" x1="345.2" x2="345.2" stroke="#F5F5F5" stroke-width="0.9"/>
<line y1="205.8" y2="372.7" x1="398.8" x2="398.8" stroke="#F5F5F5" stroke-width="0.9"/>
<line y1="205.8" y2="372.7" x1="452.4" x2="452.4" stroke="#F5F5F5" stroke-width="0.9"/>
<line y1="205.8" y2="372.7" x1="506" x2="506" stroke="#F5F5F5" stroke-width="0.9"/>
<line x1="306.9" x2="543.5" y1="348.3" y2="348.3" stroke="#F6F6F6" stroke-width="1.1"/>
<line x1="306.9" x2="543.5" y1="308.6" y2="308.6" stroke="#F6F6F6" stroke-width="1.1"/>
<line x1="306.9" x2="543.5" y1="268.9" y2="268.9" stroke="#F6F6F6" stroke-width="1.1"/>
<line x1="306.9" x2="543.5" y1="229.2" y2="229.2" stroke="#F6F6F6" stroke-width="1.1"/>
<line y1="205.8" y2="372.7" x1="318.4" x2="318.4" stroke="#F6F6F6" stroke-width="1.1"/>
<line y1="205.8" y2="372.7" x1="372" x2="372" stroke="#F6F6F6" stroke-width="1.1"/>
<line y1="205.8" y2="372.7" x1="425.6" x2="425.6" stroke="#F6F6F6" stroke-width="1.1"/>
<line y1="205.8" y2="372.7" x1="479.2" x2="479.2" stroke="#F6F6F6" stroke-width="1.1"/>
<line y1="205.8" y2="372.7" x1="532.8" x2="532.8" stroke="#F6F6F6" stroke-width="1.1"/>
<text transform="translate(319.7,212.8) scale(0.87,1)" class="an" fill="#F8766D" stroke="#F8766D"><tspan font-style="italic">R</tspan> = −0.3, <tspan font-style="italic">p</tspan> = 0.28</text>
<text transform="translate(319.7,223.85) scale(0.87,1)" class="an" fill="#00BA38" stroke="#00BA38"><tspan font-style="italic">R</tspan> = −0.11, <tspan font-style="italic">p</tspan> = 0.69</text>
<text transform="translate(319.7,234.9) scale(0.87,1)" class="an" fill="#619CFF" stroke="#619CFF"><tspan font-style="italic">R</tspan> = −0.38, <tspan font-style="italic">p</tspan> = 0.17</text>
<circle cx="318.4" cy="314.5" r="1.75" fill="#F8766D"/>
<circle cx="318.4" cy="322.6" r="1.75" fill="#F8766D"/>
<circle cx="372" cy="212.6" r="1.75" fill="#619CFF"/>
<circle cx="372" cy="214.1" r="1.75" fill="#619CFF"/>
<circle cx="372" cy="215.6" r="1.75" fill="#619CFF"/>
<circle cx="372" cy="219.4" r="1.75" fill="#F8766D"/>
<circle cx="372" cy="261.3" r="1.75" fill="#F8766D"/>
<circle cx="372" cy="265.8" r="1.75" fill="#00BA38"/>
<circle cx="372" cy="276.3" r="1.75" fill="#00BA38"/>
<circle cx="372" cy="278.3" r="1.75" fill="#00BA38"/>
<circle cx="372" cy="322.6" r="1.75" fill="#F8766D"/>
<circle cx="372" cy="327.1" r="1.75" fill="#619CFF"/>
<circle cx="425.6" cy="262.8" r="1.75" fill="#619CFF"/>
<circle cx="425.6" cy="270.3" r="1.75" fill="#00BA38"/>
<circle cx="425.6" cy="280.7" r="1.75" fill="#619CFF"/>
<circle cx="425.6" cy="282.8" r="1.75" fill="#619CFF"/>
<circle cx="425.6" cy="284.6" r="1.75" fill="#619CFF"/>
<circle cx="425.6" cy="288.8" r="1.75" fill="#00BA38"/>
<circle cx="425.6" cy="325.6" r="1.75" fill="#F8766D"/>
<circle cx="425.6" cy="330.7" r="1.75" fill="#F8766D"/>
<circle cx="425.6" cy="333.1" r="1.75" fill="#00BA38"/>
<circle cx="425.6" cy="355.5" r="1.75" fill="#F8766D"/>
<circle cx="479.2" cy="299.3" r="1.75" fill="#00BA38"/>
<circle cx="479.2" cy="307" r="1.75" fill="#619CFF"/>
<circle cx="479.2" cy="310" r="1.75" fill="#619CFF"/>
<circle cx="479.2" cy="313" r="1.75" fill="#619CFF"/>
<circle cx="479.2" cy="317.5" r="1.75" fill="#F8766D"/>
<circle cx="479.2" cy="326.2" r="1.75" fill="#00BA38"/>
<circle cx="479.2" cy="336.7" r="1.75" fill="#F8766D"/>
<circle cx="479.2" cy="362.1" r="1.75" fill="#619CFF"/>
<circle cx="532.8" cy="274.8" r="1.75" fill="#F8766D"/>
<circle cx="532.8" cy="295.1" r="1.75" fill="#00BA38"/>
<circle cx="532.8" cy="305.3" r="1.75" fill="#00BA38"/>
<circle cx="532.8" cy="316.6" r="1.75" fill="#00BA38"/>
<circle cx="532.8" cy="321.1" r="1.75" fill="#619CFF"/>
<circle cx="532.8" cy="338.5" r="1.75" fill="#619CFF"/>
<circle cx="532.8" cy="348" r="1.75" fill="#619CFF"/>
<circle cx="532.8" cy="351" r="1.75" fill="#F8766D"/>
<circle cx="532.8" cy="358.5" r="1.75" fill="#F8766D"/>
<path d="M318.4,264.3 L323.76,266.22 L329.12,268.11 L334.48,269.98 L339.84,271.82 L345.2,273.63 L350.56,275.41 L355.92,277.16 L361.28,278.86 L366.64,280.52 L372,282.12 L377.36,283.67 L382.72,285.16 L388.08,286.58 L393.44,287.93 L398.8,289.2 L404.16,290.38 L409.52,291.47 L414.88,292.47 L420.24,293.36 L425.6,294.15 L430.96,294.85 L436.32,295.44 L441.68,295.93 L447.04,296.32 L452.4,296.62 L457.76,296.84 L463.12,296.98 L468.48,297.04 L473.84,297.04 L479.2,296.97 L484.56,296.85 L489.92,296.68 L495.28,296.46 L500.64,296.2 L506,295.91 L511.36,295.58 L516.72,295.22 L522.08,294.84 L527.44,294.43 L532.8,294 L532.8,365 L527.44,363.08 L522.08,361.19 L516.72,359.32 L511.36,357.48 L506,355.67 L500.64,353.89 L495.28,352.14 L489.92,350.44 L484.56,348.78 L479.2,347.18 L473.84,345.63 L468.48,344.14 L463.12,342.72 L457.76,341.37 L452.4,340.1 L447.04,338.92 L441.68,337.83 L436.32,336.83 L430.96,335.94 L425.6,335.15 L420.24,334.45 L414.88,333.86 L409.52,333.37 L404.16,332.98 L398.8,332.68 L393.44,332.46 L388.08,332.32 L382.72,332.26 L377.36,332.26 L372,332.33 L366.64,332.45 L361.28,332.62 L355.92,332.84 L350.56,333.1 L345.2,333.39 L339.84,333.72 L334.48,334.08 L329.12,334.46 L323.76,334.87 L318.4,335.3Z" fill="#999999" fill-opacity="0.4"/>
<line x1="318.4" y1="299.8" x2="532.8" y2="329.5" stroke="#F8766D" stroke-width="1.2"/>
<path d="M318.4,277.5 L323.76,278.37 L329.12,279.22 L334.48,280.06 L339.84,280.88 L345.2,281.69 L350.56,282.47 L355.92,283.24 L361.28,283.98 L366.64,284.69 L372,285.38 L377.36,286.03 L382.72,286.64 L388.08,287.21 L393.44,287.74 L398.8,288.23 L404.16,288.66 L409.52,289.04 L414.88,289.36 L420.24,289.62 L425.6,289.83 L430.96,289.97 L436.32,290.05 L441.68,290.07 L447.04,290.04 L452.4,289.95 L457.76,289.81 L463.12,289.63 L468.48,289.4 L473.84,289.13 L479.2,288.83 L484.56,288.49 L489.92,288.12 L495.28,287.72 L500.64,287.3 L506,286.86 L511.36,286.4 L516.72,285.92 L522.08,285.43 L527.44,284.92 L532.8,284.4 L532.8,326.4 L527.44,325.53 L522.08,324.68 L516.72,323.84 L511.36,323.02 L506,322.21 L500.64,321.43 L495.28,320.66 L489.92,319.92 L484.56,319.21 L479.2,318.52 L473.84,317.87 L468.48,317.26 L463.12,316.69 L457.76,316.16 L452.4,315.67 L447.04,315.24 L441.68,314.86 L436.32,314.54 L430.96,314.28 L425.6,314.07 L420.24,313.93 L414.88,313.85 L409.52,313.83 L404.16,313.86 L398.8,313.95 L393.44,314.09 L388.08,314.27 L382.72,314.5 L377.36,314.77 L372,315.07 L366.64,315.41 L361.28,315.78 L355.92,316.18 L350.56,316.6 L345.2,317.04 L339.84,317.5 L334.48,317.98 L329.12,318.47 L323.76,318.98 L318.4,319.5Z" fill="#999999" fill-opacity="0.4"/>
<line x1="318.4" y1="298.5" x2="532.8" y2="305.4" stroke="#00BA38" stroke-width="1.2"/>
<path d="M318.4,239.5 L323.76,241.92 L329.12,244.32 L334.48,246.69 L339.84,249.03 L345.2,251.33 L350.56,253.6 L355.92,255.83 L361.28,258.01 L366.64,260.14 L372,262.22 L377.36,264.23 L382.72,266.17 L388.08,268.03 L393.44,269.81 L398.8,271.51 L404.16,273.1 L409.52,274.59 L414.88,275.98 L420.24,277.25 L425.6,278.41 L430.96,279.45 L436.32,280.38 L441.68,281.19 L447.04,281.9 L452.4,282.51 L457.76,283.01 L463.12,283.43 L468.48,283.77 L473.84,284.03 L479.2,284.22 L484.56,284.34 L489.92,284.41 L495.28,284.43 L500.64,284.4 L506,284.33 L511.36,284.23 L516.72,284.09 L522.08,283.92 L527.44,283.72 L532.8,283.5 L532.8,363.5 L527.44,361.08 L522.08,358.68 L516.72,356.31 L511.36,353.97 L506,351.67 L500.64,349.4 L495.28,347.17 L489.92,344.99 L484.56,342.86 L479.2,340.78 L473.84,338.77 L468.48,336.83 L463.12,334.97 L457.76,333.19 L452.4,331.49 L447.04,329.9 L441.68,328.41 L436.32,327.02 L430.96,325.75 L425.6,324.59 L420.24,323.55 L414.88,322.62 L409.52,321.81 L404.16,321.1 L398.8,320.49 L393.44,319.99 L388.08,319.57 L382.72,319.23 L377.36,318.97 L372,318.78 L366.64,318.66 L361.28,318.59 L355.92,318.57 L350.56,318.6 L345.2,318.67 L339.84,318.77 L334.48,318.91 L329.12,319.08 L323.76,319.28 L318.4,319.5Z" fill="#999999" fill-opacity="0.4"/>
<line x1="318.4" y1="279.5" x2="532.8" y2="323.5" stroke="#619CFF" stroke-width="1.2"/>
<line x1="305.3" x2="306.9" y1="348.3" y2="348.3" stroke="#333" stroke-width="0.6"/>
<text x="304.3" y="351.5" text-anchor="end" class="tk">20</text>
<line x1="305.3" x2="306.9" y1="308.6" y2="308.6" stroke="#333" stroke-width="0.6"/>
<text x="304.3" y="311.8" text-anchor="end" class="tk">25</text>
<line x1="305.3" x2="306.9" y1="268.9" y2="268.9" stroke="#333" stroke-width="0.6"/>
<text x="304.3" y="272.1" text-anchor="end" class="tk">30</text>
<line x1="305.3" x2="306.9" y1="229.2" y2="229.2" stroke="#333" stroke-width="0.6"/>
<text x="304.3" y="232.4" text-anchor="end" class="tk">35</text>
<line x1="318.4" x2="318.4" y1="372.7" y2="374.7" stroke="#333" stroke-width="0.6"/>
<text x="318.4" y="383.8" text-anchor="middle" class="tk">0.0</text>
<line x1="372" x2="372" y1="372.7" y2="374.7" stroke="#333" stroke-width="0.6"/>
<text x="372" y="383.8" text-anchor="middle" class="tk">0.5</text>
<line x1="425.6" x2="425.6" y1="372.7" y2="374.7" stroke="#333" stroke-width="0.6"/>
<text x="425.6" y="383.8" text-anchor="middle" class="tk">1.0</text>
<line x1="479.2" x2="479.2" y1="372.7" y2="374.7" stroke="#333" stroke-width="0.6"/>
<text x="479.2" y="383.8" text-anchor="middle" class="tk">1.5</text>
<line x1="532.8" x2="532.8" y1="372.7" y2="374.7" stroke="#333" stroke-width="0.6"/>
<text x="532.8" y="383.8" text-anchor="middle" class="tk">2.0</text>
<text x="431.8" y="396.8" text-anchor="middle" class="ti">Opening ratio</text>
<text transform="translate(289.3,286.8) rotate(-90)" text-anchor="middle" class="ti">Nearest neighbour distance (cm)</text>
<text x="308.6" y="213.8" class="tag">d</text>
<rect x="515.6" y="206.8" width="27.9" height="48" fill="#EBEBEB"/>
<text x="516.9" y="214.4" class="lt">Type</text>
<rect x="516.2" y="219.4" width="9.8" height="33.8" fill="#F2F2F2"/>
<rect x="516.2" y="219.4" width="9.8" height="33.8" fill="#999999" fill-opacity="0.4"/>
<line x1="516.7" x2="525.6" y1="225.1" y2="225.1" stroke="#F8766D" stroke-width="1.7"/>
<circle cx="521" cy="225.1" r="2.4" fill="#F8766D"/>
<text x="528.8" y="228.2" class="ll">DC</text>
<line x1="516.7" x2="525.6" y1="236.5" y2="236.5" stroke="#00BA38" stroke-width="1.7"/>
<circle cx="521" cy="236.5" r="2.4" fill="#00BA38"/>
<text x="528.8" y="239.6" class="ll">DD</text>
<line x1="516.7" x2="525.6" y1="247.9" y2="247.9" stroke="#619CFF" stroke-width="1.7"/>
<circle cx="521" cy="247.9" r="2.4" fill="#619CFF"/>
<text x="528.8" y="251" class="ll">DS</text>
<rect x="34.9" y="404.2" width="236.8" height="167.3" fill="#EBEBEB"/>
<line x1="34.9" x2="271.7" y1="548.55" y2="548.55" stroke="#F5F5F5" stroke-width="0.9"/>
<line x1="34.9" x2="271.7" y1="503.25" y2="503.25" stroke="#F5F5F5" stroke-width="0.9"/>
<line x1="34.9" x2="271.7" y1="457.95" y2="457.95" stroke="#F5F5F5" stroke-width="0.9"/>
<line x1="34.9" x2="271.7" y1="412.65" y2="412.65" stroke="#F5F5F5" stroke-width="0.9"/>
<line y1="404.2" y2="571.5" x1="72.62" x2="72.62" stroke="#F5F5F5" stroke-width="0.9"/>
<line y1="404.2" y2="571.5" x1="126.48" x2="126.48" stroke="#F5F5F5" stroke-width="0.9"/>
<line y1="404.2" y2="571.5" x1="180.33" x2="180.33" stroke="#F5F5F5" stroke-width="0.9"/>
<line y1="404.2" y2="571.5" x1="234.18" x2="234.18" stroke="#F5F5F5" stroke-width="0.9"/>
<line x1="34.9" x2="271.7" y1="571.2" y2="571.2" stroke="#F6F6F6" stroke-width="1.1"/>
<line x1="34.9" x2="271.7" y1="525.9" y2="525.9" stroke="#F6F6F6" stroke-width="1.1"/>
<line x1="34.9" x2="271.7" y1="480.6" y2="480.6" stroke="#F6F6F6" stroke-width="1.1"/>
<line x1="34.9" x2="271.7" y1="435.3" y2="435.3" stroke="#F6F6F6" stroke-width="1.1"/>
<line y1="404.2" y2="571.5" x1="45.7" x2="45.7" stroke="#F6F6F6" stroke-width="1.1"/>
<line y1="404.2" y2="571.5" x1="99.55" x2="99.55" stroke="#F6F6F6" stroke-width="1.1"/>
<line y1="404.2" y2="571.5" x1="153.4" x2="153.4" stroke="#F6F6F6" stroke-width="1.1"/>
<line y1="404.2" y2="571.5" x1="207.25" x2="207.25" stroke="#F6F6F6" stroke-width="1.1"/>
<line y1="404.2" y2="571.5" x1="261.1" x2="261.1" stroke="#F6F6F6" stroke-width="1.1"/>
<rect x="244.4" y="405.2" width="27.3" height="48" fill="#EBEBEB"/>
<text transform="translate(48.3,411.5) scale(0.87,1)" class="an" fill="#F8766D" stroke="#F8766D"><tspan font-style="italic">R</tspan> = −0.088, <tspan font-style="italic">p</tspan> = 0.75</text>
<text transform="translate(48.3,422.55) scale(0.87,1)" class="an" fill="#00BA38" stroke="#00BA38"><tspan font-style="italic">R</tspan> = −0.36, <tspan font-style="italic">p</tspan> = 0.19</text>
<text transform="translate(48.3,433.6) scale(0.87,1)" class="an" fill="#619CFF" stroke="#619CFF"><tspan font-style="italic">R</tspan> = −0.46, <tspan font-style="italic">p</tspan> = 0.082</text>
<circle cx="45.7" cy="411.5" r="1.75" fill="#F8766D"/>
<circle cx="45.7" cy="419.5" r="1.75" fill="#F8766D"/>
<circle cx="45.7" cy="427.9" r="1.75" fill="#F8766D"/>
<circle cx="99.55" cy="462.3" r="1.75" fill="#619CFF"/>
<circle cx="99.55" cy="468.9" r="1.75" fill="#619CFF"/>
<circle cx="99.55" cy="472.2" r="1.75" fill="#F8766D"/>
<circle cx="99.55" cy="476.3" r="1.75" fill="#F8766D"/>
<circle cx="99.55" cy="479.3" r="1.75" fill="#619CFF"/>
<circle cx="99.55" cy="485.3" r="1.75" fill="#00BA38"/>
<circle cx="99.55" cy="493.7" r="1.75" fill="#00BA38"/>
<circle cx="99.55" cy="495.8" r="1.75" fill="#F8766D"/>
<circle cx="153.4" cy="484.1" r="1.75" fill="#619CFF"/>
<circle cx="153.4" cy="496.1" r="1.75" fill="#619CFF"/>
<circle cx="153.4" cy="505.1" r="1.75" fill="#619CFF"/>
<circle cx="153.4" cy="514.6" r="1.75" fill="#00BA38"/>
<circle cx="153.4" cy="537" r="1.75" fill="#F8766D"/>
<circle cx="153.4" cy="538.5" r="1.75" fill="#F8766D"/>
<circle cx="153.4" cy="540" r="1.75" fill="#F8766D"/>
<circle cx="153.4" cy="561.9" r="1.75" fill="#00BA38"/>
<circle cx="153.4" cy="564" r="1.75" fill="#F8766D"/>
<circle cx="207.25" cy="448.8" r="1.75" fill="#619CFF"/>
<circle cx="207.25" cy="467.4" r="1.75" fill="#00BA38"/>
<circle cx="207.25" cy="468.9" r="1.75" fill="#00BA38"/>
<circle cx="207.25" cy="471.3" r="1.75" fill="#619CFF"/>
<circle cx="207.25" cy="473.4" r="1.75" fill="#F8766D"/>
<circle cx="207.25" cy="484.7" r="1.75" fill="#F8766D"/>
<circle cx="207.25" cy="498.2" r="1.75" fill="#00BA38"/>
<circle cx="207.25" cy="499.7" r="1.75" fill="#00BA38"/>
<circle cx="261.1" cy="435.4" r="1.75" fill="#F8766D"/>
<circle cx="261.1" cy="438.4" r="1.75" fill="#F8766D"/>
<circle cx="261.1" cy="457.8" r="1.75" fill="#00BA38"/>
<circle cx="261.1" cy="466.8" r="1.75" fill="#619CFF"/>
<circle cx="261.1" cy="470.7" r="1.75" fill="#619CFF"/>
<circle cx="261.1" cy="475.2" r="1.75" fill="#00BA38"/>
<circle cx="261.1" cy="480.2" r="1.75" fill="#00BA38"/>
<path d="M45.7,420.5 L51.09,422.31 L56.47,424.08 L61.86,425.83 L67.24,427.54 L72.62,429.22 L78.01,430.85 L83.4,432.44 L88.78,433.97 L94.17,435.44 L99.55,436.85 L104.94,438.19 L110.32,439.45 L115.71,440.62 L121.09,441.7 L126.48,442.67 L131.86,443.54 L137.25,444.29 L142.63,444.91 L148.02,445.41 L153.4,445.78 L158.79,446.02 L164.17,446.12 L169.56,446.1 L174.94,445.96 L180.33,445.7 L185.71,445.33 L191.1,444.86 L196.48,444.29 L201.87,443.63 L207.25,442.9 L212.64,442.1 L218.02,441.23 L223.41,440.3 L228.79,439.32 L234.18,438.29 L239.56,437.22 L244.95,436.12 L250.33,434.97 L255.72,433.8 L261.1,432.6 L261.1,523.6 L255.72,521.79 L250.33,520.02 L244.95,518.27 L239.56,516.56 L234.18,514.88 L228.79,513.25 L223.41,511.66 L218.02,510.13 L212.64,508.66 L207.25,507.25 L201.87,505.91 L196.48,504.65 L191.1,503.48 L185.71,502.4 L180.33,501.43 L174.94,500.56 L169.56,499.81 L164.17,499.19 L158.79,498.69 L153.4,498.32 L148.02,498.08 L142.63,497.98 L137.25,498 L131.86,498.14 L126.48,498.4 L121.09,498.77 L115.71,499.24 L110.32,499.81 L104.94,500.47 L99.55,501.2 L94.17,502 L88.78,502.87 L83.4,503.8 L78.01,504.78 L72.62,505.81 L67.24,506.88 L61.86,507.98 L56.47,509.13 L51.09,510.3 L45.7,511.5Z" fill="#999999" fill-opacity="0.4"/>
<line x1="45.7" y1="466" x2="261.1" y2="478.1" stroke="#F8766D" stroke-width="1.2"/>
<path d="M45.7,423.5 L51.09,425.77 L56.47,428.02 L61.86,430.24 L67.24,432.43 L72.62,434.59 L78.01,436.72 L83.4,438.8 L88.78,440.85 L94.17,442.84 L99.55,444.78 L104.94,446.66 L110.32,448.47 L115.71,450.22 L121.09,451.88 L126.48,453.45 L131.86,454.94 L137.25,456.33 L142.63,457.61 L148.02,458.79 L153.4,459.86 L158.79,460.82 L164.17,461.67 L169.56,462.42 L174.94,463.06 L180.33,463.6 L185.71,464.06 L191.1,464.43 L196.48,464.71 L201.87,464.93 L207.25,465.08 L212.64,465.17 L218.02,465.21 L223.41,465.19 L228.79,465.14 L234.18,465.04 L239.56,464.91 L244.95,464.75 L250.33,464.56 L255.72,464.34 L261.1,464.1 L261.1,540.1 L255.72,537.83 L250.33,535.58 L244.95,533.36 L239.56,531.17 L234.18,529.01 L228.79,526.88 L223.41,524.8 L218.02,522.75 L212.64,520.76 L207.25,518.82 L201.87,516.94 L196.48,515.13 L191.1,513.38 L185.71,511.72 L180.33,510.15 L174.94,508.66 L169.56,507.27 L164.17,505.99 L158.79,504.81 L153.4,503.74 L148.02,502.78 L142.63,501.93 L137.25,501.18 L131.86,500.54 L126.48,500 L121.09,499.54 L115.71,499.17 L110.32,498.89 L104.94,498.67 L99.55,498.52 L94.17,498.43 L88.78,498.39 L83.4,498.41 L78.01,498.46 L72.62,498.56 L67.24,498.69 L61.86,498.85 L56.47,499.04 L51.09,499.26 L45.7,499.5Z" fill="#999999" fill-opacity="0.4"/>
<line x1="45.7" y1="461.5" x2="261.1" y2="502.1" stroke="#00BA38" stroke-width="1.2"/>
<path d="M45.7,424 L51.09,425.56 L56.47,427.11 L61.86,428.64 L67.24,430.15 L72.62,431.65 L78.01,433.12 L83.4,434.57 L88.78,436 L94.17,437.4 L99.55,438.77 L104.94,440.1 L110.32,441.4 L115.71,442.65 L121.09,443.86 L126.48,445.02 L131.86,446.12 L137.25,447.17 L142.63,448.16 L148.02,449.08 L153.4,449.95 L158.79,450.75 L164.17,451.49 L169.56,452.16 L174.94,452.78 L180.33,453.34 L185.71,453.85 L191.1,454.3 L196.48,454.72 L201.87,455.09 L207.25,455.42 L212.64,455.72 L218.02,455.98 L223.41,456.22 L228.79,456.43 L234.18,456.62 L239.56,456.79 L244.95,456.94 L250.33,457.08 L255.72,457.19 L261.1,457.3 L261.1,501.3 L255.72,499.74 L250.33,498.19 L244.95,496.66 L239.56,495.15 L234.18,493.65 L228.79,492.18 L223.41,490.73 L218.02,489.3 L212.64,487.9 L207.25,486.53 L201.87,485.2 L196.48,483.9 L191.1,482.65 L185.71,481.44 L180.33,480.28 L174.94,479.18 L169.56,478.13 L164.17,477.14 L158.79,476.22 L153.4,475.35 L148.02,474.55 L142.63,473.81 L137.25,473.14 L131.86,472.52 L126.48,471.96 L121.09,471.45 L115.71,471 L110.32,470.58 L104.94,470.21 L99.55,469.88 L94.17,469.58 L88.78,469.32 L83.4,469.08 L78.01,468.87 L72.62,468.68 L67.24,468.51 L61.86,468.36 L56.47,468.22 L51.09,468.11 L45.7,468Z" fill="#999999" fill-opacity="0.4"/>
<line x1="45.7" y1="446" x2="261.1" y2="479.3" stroke="#619CFF" stroke-width="1.2"/>
<line x1="33.3" x2="34.9" y1="571.2" y2="571.2" stroke="#333" stroke-width="0.6"/>
<text x="26.1" y="574.4" text-anchor="middle" class="tk">20</text>
<line x1="33.3" x2="34.9" y1="525.9" y2="525.9" stroke="#333" stroke-width="0.6"/>
<text x="26.1" y="529.1" text-anchor="middle" class="tk">40</text>
<line x1="33.3" x2="34.9" y1="480.6" y2="480.6" stroke="#333" stroke-width="0.6"/>
<text x="26.1" y="483.8" text-anchor="middle" class="tk">60</text>
<line x1="33.3" x2="34.9" y1="435.3" y2="435.3" stroke="#333" stroke-width="0.6"/>
<text x="26.1" y="438.5" text-anchor="middle" class="tk">80</text>
<line x1="45.7" x2="45.7" y1="571.5" y2="573.5" stroke="#333" stroke-width="0.6"/>
<text x="45.7" y="581.7" text-anchor="middle" class="tk">0.0</text>
<line x1="99.55" x2="99.55" y1="571.5" y2="573.5" stroke="#333" stroke-width="0.6"/>
<text x="99.55" y="581.7" text-anchor="middle" class="tk">0.5</text>
<line x1="153.4" x2="153.4" y1="571.5" y2="573.5" stroke="#333" stroke-width="0.6"/>
<text x="153.4" y="581.7" text-anchor="middle" class="tk">1.0</text>
<line x1="207.25" x2="207.25" y1="571.5" y2="573.5" stroke="#333" stroke-width="0.6"/>
<text x="207.25" y="581.7" text-anchor="middle" class="tk">1.5</text>
<line x1="261.1" x2="261.1" y1="571.5" y2="573.5" stroke="#333" stroke-width="0.6"/>
<text x="261.1" y="581.7" text-anchor="middle" class="tk">2.0</text>
<text x="159" y="593.8" text-anchor="middle" class="ti">Opening ratio</text>
<text transform="translate(16,484.4) rotate(-90)" text-anchor="middle" class="ti">Active percentage of time (%)</text>
<text x="37.1" y="411.8" class="tag">e</text>
<text x="245.7" y="412.8" class="lt">Type</text>
<rect x="245" y="417.8" width="9.8" height="33.8" fill="#F2F2F2"/>
<rect x="245" y="417.8" width="9.8" height="33.8" fill="#999999" fill-opacity="0.4"/>
<line x1="245.5" x2="254.4" y1="423.5" y2="423.5" stroke="#F8766D" stroke-width="1.7"/>
<circle cx="249.8" cy="423.5" r="2.4" fill="#F8766D"/>
<text x="257.6" y="426.6" class="ll">DC</text>
<line x1="245.5" x2="254.4" y1="434.9" y2="434.9" stroke="#00BA38" stroke-width="1.7"/>
<circle cx="249.8" cy="434.9" r="2.4" fill="#00BA38"/>
<text x="257.6" y="438" class="ll">DD</text>
<line x1="245.5" x2="254.4" y1="446.3" y2="446.3" stroke="#619CFF" stroke-width="1.7"/>
<circle cx="249.8" cy="446.3" r="2.4" fill="#619CFF"/>
<text x="257.6" y="449.4" class="ll">DS</text>
<rect x="306.7" y="404" width="234.9" height="167.2" fill="#EBEBEB"/>
<line x1="306.7" x2="541.6" y1="541.82" y2="541.82" stroke="#F5F5F5" stroke-width="0.9"/>
<line x1="306.7" x2="541.6" y1="500.25" y2="500.25" stroke="#F5F5F5" stroke-width="0.9"/>
<line x1="306.7" x2="541.6" y1="458.68" y2="458.68" stroke="#F5F5F5" stroke-width="0.9"/>
<line x1="306.7" x2="541.6" y1="417.12" y2="417.12" stroke="#F5F5F5" stroke-width="0.9"/>
<line y1="404" y2="571.2" x1="344.06" x2="344.06" stroke="#F5F5F5" stroke-width="0.9"/>
<line y1="404" y2="571.2" x1="397.39" x2="397.39" stroke="#F5F5F5" stroke-width="0.9"/>
<line y1="404" y2="571.2" x1="450.71" x2="450.71" stroke="#F5F5F5" stroke-width="0.9"/>
<line y1="404" y2="571.2" x1="504.04" x2="504.04" stroke="#F5F5F5" stroke-width="0.9"/>
<line x1="306.7" x2="541.6" y1="562.6" y2="562.6" stroke="#F6F6F6" stroke-width="1.1"/>
<line x1="306.7" x2="541.6" y1="521.03" y2="521.03" stroke="#F6F6F6" stroke-width="1.1"/>
<line x1="306.7" x2="541.6" y1="479.47" y2="479.47" stroke="#F6F6F6" stroke-width="1.1"/>
<line x1="306.7" x2="541.6" y1="437.9" y2="437.9" stroke="#F6F6F6" stroke-width="1.1"/>
<line y1="404" y2="571.2" x1="317.4" x2="317.4" stroke="#F6F6F6" stroke-width="1.1"/>
<line y1="404" y2="571.2" x1="370.73" x2="370.73" stroke="#F6F6F6" stroke-width="1.1"/>
<line y1="404" y2="571.2" x1="424.05" x2="424.05" stroke="#F6F6F6" stroke-width="1.1"/>
<line y1="404" y2="571.2" x1="477.38" x2="477.38" stroke="#F6F6F6" stroke-width="1.1"/>
<line y1="404" y2="571.2" x1="530.7" x2="530.7" stroke="#F6F6F6" stroke-width="1.1"/>
<rect x="513.6" y="405" width="28" height="48" fill="#EBEBEB"/>
<text transform="translate(319.8,410.8) scale(0.87,1)" class="an" fill="#F8766D" stroke="#F8766D"><tspan font-style="italic">R</tspan> = −0.079, <tspan font-style="italic">p</tspan> = 0.78</text>
<text transform="translate(319.8,421.25) scale(0.87,1)" class="an" fill="#00BA38" stroke="#00BA38"><tspan font-style="italic">R</tspan> = 0.23, <tspan font-style="italic">p</tspan> = 0.41</text>
<text transform="translate(319.8,431.7) scale(0.87,1)" class="an" fill="#619CFF" stroke="#619CFF"><tspan font-style="italic">R</tspan> = 0.41, <tspan font-style="italic">p</tspan> = 0.13</text>
<circle cx="317.4" cy="467.7" r="1.75" fill="#F8766D"/>
<circle cx="317.4" cy="486.2" r="1.75" fill="#F8766D"/>
<circle cx="317.4" cy="511" r="1.75" fill="#F8766D"/>
<circle cx="370.73" cy="445.8" r="1.75" fill="#619CFF"/>
<circle cx="370.73" cy="447.3" r="1.75" fill="#619CFF"/>
<circle cx="370.73" cy="449.4" r="1.75" fill="#F8766D"/>
<circle cx="370.73" cy="452.7" r="1.75" fill="#00BA38"/>
<circle cx="370.73" cy="472.8" r="1.75" fill="#F8766D"/>
<circle cx="370.73" cy="478.1" r="1.75" fill="#619CFF"/>
<circle cx="370.73" cy="487.1" r="1.75" fill="#F8766D"/>
<circle cx="370.73" cy="522.1" r="1.75" fill="#619CFF"/>
<circle cx="370.73" cy="564" r="1.75" fill="#00BA38"/>
<circle cx="424.05" cy="413.6" r="1.75" fill="#00BA38"/>
<circle cx="424.05" cy="441.4" r="1.75" fill="#619CFF"/>
<circle cx="424.05" cy="445" r="1.75" fill="#619CFF"/>
<circle cx="424.05" cy="455.4" r="1.75" fill="#F8766D"/>
<circle cx="424.05" cy="478.7" r="1.75" fill="#619CFF"/>
<circle cx="424.05" cy="501.2" r="1.75" fill="#00BA38"/>
<circle cx="424.05" cy="519.1" r="1.75" fill="#F8766D"/>
<circle cx="424.05" cy="540" r="1.75" fill="#F8766D"/>
<circle cx="424.05" cy="555" r="1.75" fill="#00BA38"/>
<circle cx="477.38" cy="415.3" r="1.75" fill="#00BA38"/>
<circle cx="477.38" cy="433.3" r="1.75" fill="#00BA38"/>
<circle cx="477.38" cy="439" r="1.75" fill="#619CFF"/>
<circle cx="477.38" cy="453.3" r="1.75" fill="#619CFF"/>
<circle cx="477.38" cy="477.2" r="1.75" fill="#00BA38"/>
<circle cx="477.38" cy="478.7" r="1.75" fill="#F8766D"/>
<circle cx="477.38" cy="480.2" r="1.75" fill="#F8766D"/>
<circle cx="477.38" cy="519.1" r="1.75" fill="#619CFF"/>
<circle cx="530.7" cy="415.3" r="1.75" fill="#619CFF"/>
<circle cx="530.7" cy="434" r="1.75" fill="#00BA38"/>
<circle cx="530.7" cy="438.4" r="1.75" fill="#F8766D"/>
<circle cx="530.7" cy="468.9" r="1.75" fill="#619CFF"/>
<circle cx="530.7" cy="505.7" r="1.75" fill="#F8766D"/>
<circle cx="530.7" cy="529.6" r="1.75" fill="#F8766D"/>
<circle cx="530.7" cy="549.9" r="1.75" fill="#00BA38"/>
<path d="M317.4,456.6 L322.73,457.67 L328.06,458.72 L333.4,459.75 L338.73,460.76 L344.06,461.75 L349.39,462.71 L354.73,463.64 L360.06,464.53 L365.39,465.39 L370.73,466.2 L376.06,466.97 L381.39,467.69 L386.72,468.35 L392.06,468.96 L397.39,469.49 L402.72,469.96 L408.05,470.35 L413.38,470.66 L418.72,470.89 L424.05,471.04 L429.38,471.1 L434.72,471.08 L440.05,470.98 L445.38,470.8 L450.71,470.54 L456.05,470.22 L461.38,469.82 L466.71,469.37 L472.04,468.86 L477.38,468.3 L482.71,467.7 L488.04,467.05 L493.37,466.37 L498.71,465.65 L504.04,464.9 L509.37,464.12 L514.7,463.32 L520.04,462.5 L525.37,461.66 L530.7,460.8 L530.7,519.2 L525.37,518.13 L520.04,517.08 L514.7,516.05 L509.37,515.04 L504.04,514.05 L498.71,513.09 L493.37,512.16 L488.04,511.27 L482.71,510.41 L477.38,509.6 L472.04,508.83 L466.71,508.11 L461.38,507.45 L456.05,506.84 L450.71,506.31 L445.38,505.84 L440.05,505.45 L434.72,505.14 L429.38,504.91 L424.05,504.76 L418.72,504.7 L413.38,504.72 L408.05,504.82 L402.72,505 L397.39,505.26 L392.06,505.58 L386.72,505.98 L381.39,506.43 L376.06,506.94 L370.73,507.5 L365.39,508.1 L360.06,508.75 L354.73,509.43 L349.39,510.15 L344.06,510.9 L338.73,511.68 L333.4,512.48 L328.06,513.3 L322.73,514.14 L317.4,515Z" fill="#999999" fill-opacity="0.4"/>
<line x1="317.4" y1="485.8" x2="530.7" y2="490" stroke="#F8766D" stroke-width="1.2"/>
<path d="M317.4,444.7 L322.73,445.48 L328.06,446.23 L333.4,446.94 L338.73,447.62 L344.06,448.26 L349.39,448.86 L354.73,449.4 L360.06,449.89 L365.39,450.32 L370.73,450.69 L376.06,450.98 L381.39,451.18 L386.72,451.3 L392.06,451.31 L397.39,451.22 L402.72,451.02 L408.05,450.69 L413.38,450.24 L418.72,449.65 L424.05,448.93 L429.38,448.06 L434.72,447.07 L440.05,445.94 L445.38,444.68 L450.71,443.3 L456.05,441.8 L461.38,440.2 L466.71,438.5 L472.04,436.71 L477.38,434.84 L482.71,432.89 L488.04,430.87 L493.37,428.8 L498.71,426.67 L504.04,424.49 L509.37,422.26 L514.7,420 L520.04,417.7 L525.37,415.36 L530.7,413 L530.7,508 L525.37,507.22 L520.04,506.47 L514.7,505.76 L509.37,505.08 L504.04,504.44 L498.71,503.84 L493.37,503.3 L488.04,502.81 L482.71,502.38 L477.38,502.01 L472.04,501.72 L466.71,501.52 L461.38,501.4 L456.05,501.39 L450.71,501.48 L445.38,501.68 L440.05,502.01 L434.72,502.46 L429.38,503.05 L424.05,503.77 L418.72,504.64 L413.38,505.63 L408.05,506.76 L402.72,508.02 L397.39,509.4 L392.06,510.9 L386.72,512.5 L381.39,514.2 L376.06,515.99 L370.73,517.86 L365.39,519.81 L360.06,521.83 L354.73,523.9 L349.39,526.03 L344.06,528.21 L338.73,530.44 L333.4,532.7 L328.06,535 L322.73,537.34 L317.4,539.7Z" fill="#999999" fill-opacity="0.4"/>
<line x1="317.4" y1="492.2" x2="530.7" y2="460.5" stroke="#00BA38" stroke-width="1.2"/>
<path d="M317.4,459.8 L322.73,459.82 L328.06,459.82 L333.4,459.8 L338.73,459.76 L344.06,459.7 L349.39,459.62 L354.73,459.5 L360.06,459.36 L365.39,459.18 L370.73,458.96 L376.06,458.7 L381.39,458.39 L386.72,458.03 L392.06,457.62 L397.39,457.14 L402.72,456.6 L408.05,455.99 L413.38,455.31 L418.72,454.55 L424.05,453.71 L429.38,452.8 L434.72,451.81 L440.05,450.74 L445.38,449.6 L450.71,448.39 L456.05,447.12 L461.38,445.78 L466.71,444.39 L472.04,442.95 L477.38,441.46 L482.71,439.93 L488.04,438.36 L493.37,436.75 L498.71,435.12 L504.04,433.45 L509.37,431.76 L514.7,430.05 L520.04,428.32 L525.37,426.57 L530.7,424.8 L530.7,478.8 L525.37,478.78 L520.04,478.78 L514.7,478.8 L509.37,478.84 L504.04,478.9 L498.71,478.98 L493.37,479.1 L488.04,479.24 L482.71,479.42 L477.38,479.64 L472.04,479.9 L466.71,480.21 L461.38,480.57 L456.05,480.98 L450.71,481.46 L445.38,482 L440.05,482.61 L434.72,483.29 L429.38,484.05 L424.05,484.89 L418.72,485.8 L413.38,486.79 L408.05,487.86 L402.72,489 L397.39,490.21 L392.06,491.48 L386.72,492.82 L381.39,494.21 L376.06,495.65 L370.73,497.14 L365.39,498.67 L360.06,500.24 L354.73,501.85 L349.39,503.48 L344.06,505.15 L338.73,506.84 L333.4,508.55 L328.06,510.28 L322.73,512.03 L317.4,513.8Z" fill="#999999" fill-opacity="0.4"/>
<line x1="317.4" y1="486.8" x2="530.7" y2="451.8" stroke="#619CFF" stroke-width="1.2"/>
<line x1="305.1" x2="306.7" y1="562.6" y2="562.6" stroke="#333" stroke-width="0.6"/>
<text x="303.7" y="565.8" text-anchor="end" class="tk">−20</text>
<line x1="305.1" x2="306.7" y1="521.03" y2="521.03" stroke="#333" stroke-width="0.6"/>
<text x="303.7" y="524.23" text-anchor="end" class="tk">−10</text>
<line x1="305.1" x2="306.7" y1="479.47" y2="479.47" stroke="#333" stroke-width="0.6"/>
<text x="302.2" y="482.67" text-anchor="end" class="tk">0</text>
<line x1="305.1" x2="306.7" y1="437.9" y2="437.9" stroke="#333" stroke-width="0.6"/>
<text x="303.7" y="441.1" text-anchor="end" class="tk">10</text>
<line x1="317.4" x2="317.4" y1="571.2" y2="573.2" stroke="#333" stroke-width="0.6"/>
<text x="317.4" y="581.7" text-anchor="middle" class="tk">0.0</text>
<line x1="370.73" x2="370.73" y1="571.2" y2="573.2" stroke="#333" stroke-width="0.6"/>
<text x="370.73" y="581.7" text-anchor="middle" class="tk">0.5</text>
<line x1="424.05" x2="424.05" y1="571.2" y2="573.2" stroke="#333" stroke-width="0.6"/>
<text x="424.05" y="581.7" text-anchor="middle" class="tk">1.0</text>
<line x1="477.38" x2="477.38" y1="571.2" y2="573.2" stroke="#333" stroke-width="0.6"/>
<text x="477.38" y="581.7" text-anchor="middle" class="tk">1.5</text>
<line x1="530.7" x2="530.7" y1="571.2" y2="573.2" stroke="#333" stroke-width="0.6"/>
<text x="530.7" y="581.7" text-anchor="middle" class="tk">2.0</text>
<text x="430.5" y="593.8" text-anchor="middle" class="ti">Opening ratio</text>
<text transform="translate(286,481.6) rotate(-90)" text-anchor="middle" class="ti">Average turning rate movement (deg/s)</text>
<text x="309.9" y="412.5" class="tag">f</text>
<text x="514.9" y="412.6" class="lt">Type</text>
<rect x="514.2" y="417.6" width="9.8" height="33.8" fill="#F2F2F2"/>
<rect x="514.2" y="417.6" width="9.8" height="33.8" fill="#999999" fill-opacity="0.4"/>
<line x1="514.7" x2="523.6" y1="423.3" y2="423.3" stroke="#F8766D" stroke-width="1.7"/>
<circle cx="519" cy="423.3" r="2.4" fill="#F8766D"/>
<text x="526.8" y="426.4" class="ll">DC</text>
<line x1="514.7" x2="523.6" y1="434.7" y2="434.7" stroke="#00BA38" stroke-width="1.7"/>
<circle cx="519" cy="434.7" r="2.4" fill="#00BA38"/>
<text x="526.8" y="437.8" class="ll">DD</text>
<line x1="514.7" x2="523.6" y1="446.1" y2="446.1" stroke="#619CFF" stroke-width="1.7"/>
<circle cx="519" cy="446.1" r="2.4" fill="#619CFF"/>
<text x="526.8" y="449.2" class="ll">DS</text>
</svg></body></html>
